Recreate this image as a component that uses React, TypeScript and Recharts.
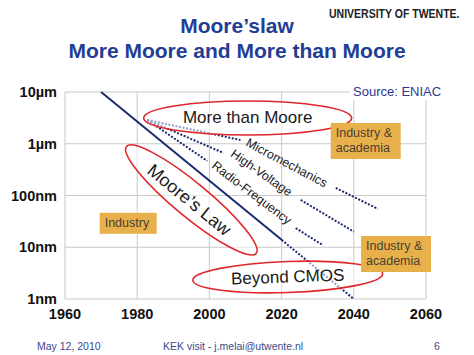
import React from "react";
import {
  LineChart,
  Line,
  XAxis,
  YAxis,
  CartesianGrid,
  ReferenceDot,
} from "recharts";

// axis ticks
const yearTicks = [1960, 1980, 2000, 2020, 2040, 2060];
const sizeTicks = [1, 10, 100, 1000, 10000];
const sizeLabels = ["1nm", "10nm", "100nm", "1\u00b5m", "10\u00b5m"];

// feature size (nm) per year
const mooreSolid = [
  { year: 1970, size: 10000 },
  { year: 2020, size: 13.9 },
];
const mooreDotted = [
  { year: 2020, size: 13.9 },
  { year: 2040, size: 1 },
];
const micromechanics = [
  { year: 1982.8, size: 2880 },
  { year: 2008.6, size: 1180 },
  { year: 2021, size: null },
  { year: 2035, size: 140 },
  { year: 2046.7, size: 55 },
];
const highVoltage = [
  { year: 1982.8, size: 2880 },
  { year: 2003.9, size: 665 },
  { year: 2014, size: null },
  { year: 2025.3, size: 82 },
  { year: 2040, size: 20 },
];
const radioFrequency = [
  { year: 1982.8, size: 2880 },
  { year: 1999.4, size: 465 },
  { year: 2012, size: null },
  { year: 2023.9, size: 23.5 },
  { year: 2031.4, size: 11 },
];

const FONT = "'Liberation Sans', Arial, sans-serif";
const NAVY = "#1b2a6e";
const RED = "#e0262b";
const BOX = "#e8b04b";

const ellipse = (rx: number, ry: number, angle: number, label: string) =>
  (p: any) => (
    <g>
      <ellipse
        cx={p.cx}
        cy={p.cy}
        rx={rx}
        ry={ry}
        transform={`rotate(${angle} ${p.cx} ${p.cy})`}
        fill="#fff"
        fillOpacity={0.55}
        stroke={RED}
        strokeWidth={1.6}
      />
      <text
        x={p.cx}
        y={p.cy}
        textAnchor="middle"
        dominantBaseline="central"
        transform={`rotate(${angle} ${p.cx} ${p.cy})`}
        fontFamily={FONT}
        fontSize={17}
        fill="#1a1a1a"
      >
        {label}
      </text>
    </g>
  );

const slanted = (label: string, angle: number, size: number) => (p: any) => (
  <text
    x={p.cx}
    y={p.cy}
    textAnchor="middle"
    dominantBaseline="central"
    transform={`rotate(${angle} ${p.cx} ${p.cy})`}
    fontFamily={FONT}
    fontSize={size}
    fill="#1a1a1a"
  >
    {label}
  </text>
);

const box = (lines: string[], w: number, h: number) => (p: any) => (
  <g>
    <rect x={p.cx - w / 2} y={p.cy - h / 2} width={w} height={h} fill={BOX} />
    {lines.map((t, i) => (
      <text
        key={t}
        x={p.cx - w / 2 + 5}
        y={p.cy - h / 2 + 14 + i * 15}
        fontFamily={FONT}
        fontSize={12.5}
        fill="#4a4030"
      >
        {t}
      </text>
    ))}
  </g>
);

const tickStyle = {
  fill: "#111",
  fontWeight: "bold" as const,
  fontSize: 14.5,
  fontFamily: FONT,
};

export default function App() {
  return (
    <div
      style={{
        position: "absolute",
        left: 0,
        top: 0,
        width: 474,
        height: 355,
        background: "#fff",
        fontFamily: FONT,
        overflow: "hidden",
      }}
    >
      <div
        style={{
          position: "absolute",
          left: 329,
          top: 7,
          fontWeight: "bold",
          fontSize: 12.5,
          lineHeight: "15px",
          color: "#222",
          whiteSpace: "nowrap",
          transform: "scaleX(0.84)",
          transformOrigin: "left top",
        }}
      >
        UNIVERSITY OF TWENTE.
      </div>
      <div
        style={{
          position: "absolute",
          left: 0,
          width: 474,
          top: 13,
          textAlign: "center",
          color: "#223d94",
          fontWeight: "bold",
          fontSize: 21,
          lineHeight: "25px",
        }}
      >
        Moore’slaw
        <br />
        More Moore and More than Moore
      </div>

      <LineChart
        width={474}
        height={355}
        margin={{ top: 92, right: 48, bottom: 26, left: 5 }}
        style={{ position: "absolute", left: 0, top: 0 }}
      >
        <CartesianGrid stroke="#c8c8c8" strokeWidth={1} />
        <XAxis
          type="number"
          dataKey="year"
          domain={[1960, 2060]}
          ticks={yearTicks}
          axisLine={false}
          tickLine={false}
          tickMargin={4}
          tick={tickStyle}
          height={30}
          allowDuplicatedCategory={false}
        />
        <YAxis
          type="number"
          dataKey="size"
          scale="log"
          domain={[1, 10000]}
          ticks={sizeTicks}
          tickFormatter={(v: number) => sizeLabels[sizeTicks.indexOf(v)]}
          axisLine={false}
          tickLine={false}
          tick={tickStyle}
          width={60}
        />
        <Line
          data={mooreSolid}
          dataKey="size"
          stroke={NAVY}
          strokeWidth={2}
          dot={false}
          isAnimationActive={false}
        />
        <Line
          data={mooreDotted}
          dataKey="size"
          stroke={NAVY}
          strokeWidth={2}
          strokeDasharray="2 1.6"
          dot={false}
          isAnimationActive={false}
        />
        <Line
          data={micromechanics}
          dataKey="size"
          stroke={NAVY}
          strokeWidth={2}
          strokeDasharray="2 1.6"
          dot={false}
          isAnimationActive={false}
        />
        <Line
          data={highVoltage}
          dataKey="size"
          stroke={NAVY}
          strokeWidth={2}
          strokeDasharray="2 1.6"
          dot={false}
          isAnimationActive={false}
        />
        <Line
          data={radioFrequency}
          dataKey="size"
          stroke={NAVY}
          strokeWidth={2}
          strokeDasharray="2 1.6"
          dot={false}
          isAnimationActive={false}
        />

        <ReferenceDot x={2010.6} y={3150} ifOverflow="visible" shape={ellipse(104, 17, 0, "More than Moore")} />
        <ReferenceDot x={1995} y={82} ifOverflow="visible" shape={ellipse(84, 17, 39.5, "")} />
        <ReferenceDot x={1994.4} y={82} ifOverflow="visible" shape={slanted("Moore\u2019s Law", 39, 18)} />
        <ReferenceDot x={2021.7} y={2.66} ifOverflow="visible" shape={ellipse(95, 15.5, -2, "Beyond CMOS")} />
        <ReferenceDot x={2021.4} y={425} ifOverflow="visible" shape={slanted("Micromechanics", 28, 12.5)} />
        <ReferenceDot x={2014.4} y={272} ifOverflow="visible" shape={slanted("High-Voltage", 35, 12.5)} />
        <ReferenceDot x={2011.7} y={112} ifOverflow="visible" shape={slanted("Radio-Frequency", 37, 12.5)} />
        <ReferenceDot x={1977.5} y={29} ifOverflow="visible" shape={box(["Industry"], 57, 21)} />
        <ReferenceDot x={2043.3} y={1130} ifOverflow="visible" shape={box(["Industry &", "academia"], 70, 36)} />
        <ReferenceDot x={2051.7} y={7.4} ifOverflow="visible" shape={box(["Industry &", "academia"], 70, 36)} />
      </LineChart>

      <div
        style={{
          position: "absolute",
          left: 350,
          top: 84,
          padding: "0 3px",
          background: "#fff",
          color: "#2b3990",
          fontSize: 13,
          lineHeight: "16px",
        }}
      >
        Source: ENIAC
      </div>

      <div style={{ position: "absolute", left: 37, top: 340, fontSize: 10.5, color: "#3a4a8a" }}>
        May 12, 2010
      </div>
      <div style={{ position: "absolute", left: 163, top: 340, fontSize: 10.5, color: "#3a4a8a" }}>
        KEK visit - j.melai@utwente.nl
      </div>
      <div style={{ position: "absolute", left: 434, top: 340, fontSize: 10.5, color: "#3a4a8a" }}>
        6
      </div>
    </div>
  );
}
